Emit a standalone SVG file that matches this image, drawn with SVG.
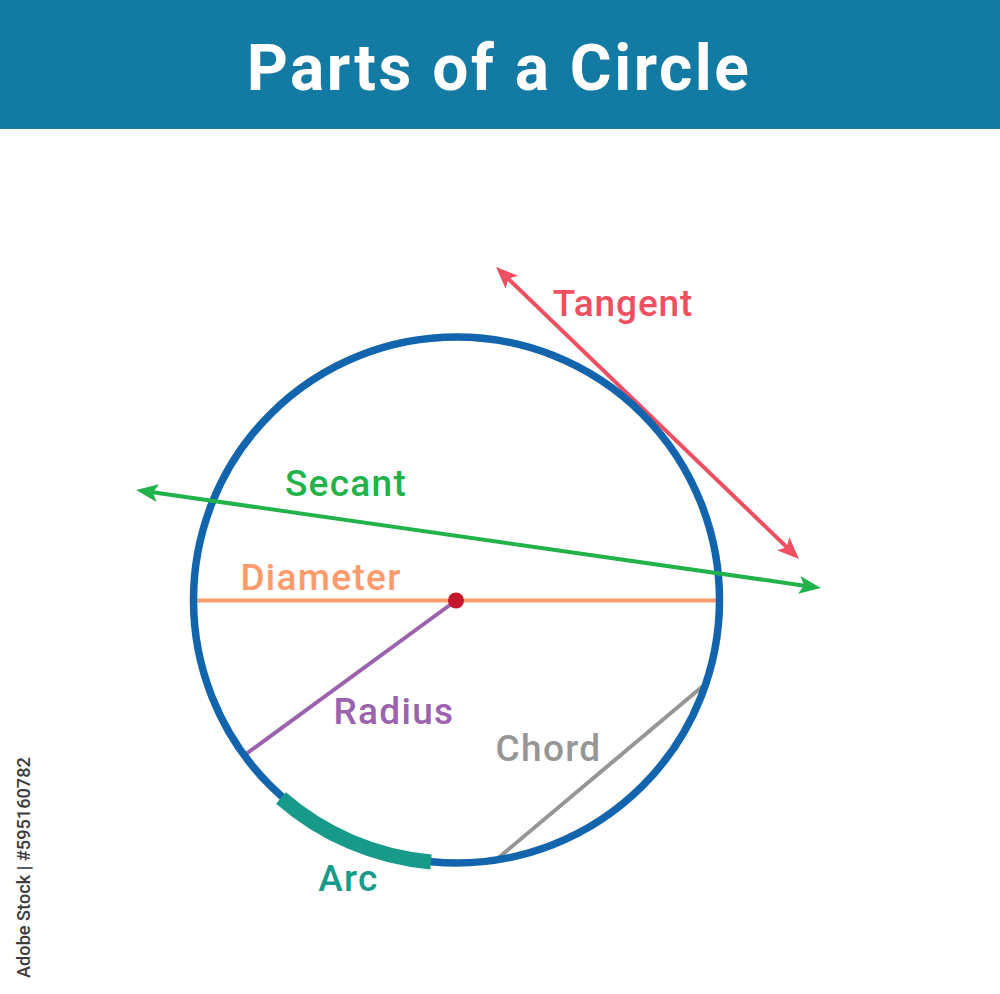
<svg xmlns="http://www.w3.org/2000/svg" width="1000" height="994" viewBox="0 0 1000 994">
<style>
text{font-family:"Roboto","Liberation Sans",sans-serif;font-weight:500;font-size:37px;letter-spacing:1.300px;text-anchor:middle}
.c{fill:none}
.tan{stroke:#ef4f60;stroke-width:4}
.sec{stroke:#22b24c;stroke-width:4}
</style>
<defs>
<marker id="mt" markerUnits="userSpaceOnUse" markerWidth="24" markerHeight="20" refX="14" refY="10" orient="auto-start-reverse"><path d="M22 10L0 1L5 10L0 19Z" fill="#ef4f60"/></marker>
<marker id="ms" markerUnits="userSpaceOnUse" markerWidth="24" markerHeight="20" refX="14" refY="10" orient="auto-start-reverse"><path d="M22 10L0 1L5 10L0 19Z" fill="#22b24c"/></marker>
</defs>
<rect id="header" width="1000" height="129" fill="#127aa3"/>
<text x="499" y="90" style="font-size:64px;font-weight:700;letter-spacing:2.500px" fill="#fff">Parts of a Circle</text>
<text transform="translate(30 978) rotate(-90)" x="0" y="0" style="font-size:18.200px;font-weight:500;letter-spacing:0;text-anchor:start" fill="#3c3c3c">Adobe Stock | #595160782</text>
<g id="connectors">
<path id="tangent-line" class="tan" d="M501.800 272.600L793.200 553.400" marker-start="url(#mt)" marker-end="url(#mt)"/>
<path id="diameter-line" d="M195 600.500H718" stroke="#ff9a6c" stroke-width="4"/>
<path id="radius-line" d="M456 600.500L246 754" stroke="#9b62ad" stroke-width="4"/>
<path id="chord-line" d="M497 859L703 686" stroke="#969696" stroke-width="4"/>
</g>
<g id="circle"><circle cx="456.500" cy="600" r="263" class="c" stroke="#1265ad" stroke-width="7.500"/></g>
<g id="secant"><path class="sec" d="M144 491.100L813 586.900" marker-start="url(#ms)" marker-end="url(#ms)"/></g>
<g id="arc"><path d="M281 798A263 263 0 0 0 431 862" class="c" stroke="#179a8a" stroke-width="15"/><text x="348.500" y="891" fill="#179a8a">Arc</text></g>
<g id="center"><circle cx="456" cy="600.500" r="8" fill="#c5172e"/></g>
<g id="tangent"><text x="623" y="316" style="letter-spacing:.9px" fill="#ef4f60">Tangent</text></g>
<g id="secant-label"><text x="346" y="496" fill="#22b24c">Secant</text></g>
<g id="diameter"><text x="321" y="590" fill="#ff9a6c">Diameter</text></g>
<g id="radius"><text x="394" y="724" fill="#9b62ad">Radius</text></g>
<g id="chord"><text x="548.500" y="761" fill="#969696">Chord</text></g>
</svg>
